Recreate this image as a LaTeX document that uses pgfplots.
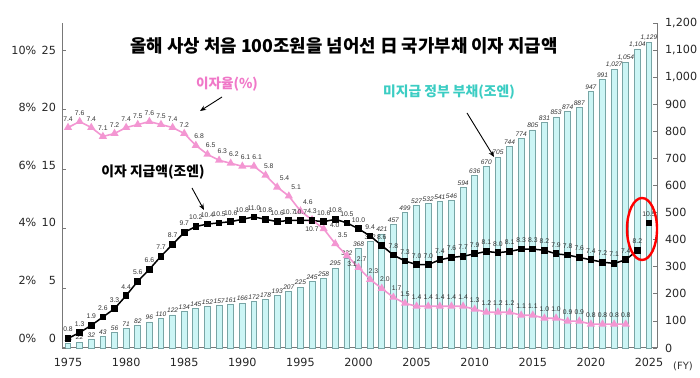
\documentclass[border=0pt]{standalone}
\usepackage{pgfplots}
\pgfplotsset{compat=1.18}
\usepackage{pgfplotstable}
\usepackage{fontspec}
\setmainfont{DejaVu Sans}
\newfontfamily\kr{Noto Sans CJK KR}
\newfontfamily\lab{Liberation Sans}
\usetikzlibrary{arrows.meta}
\pgfplotsset{/pgf/number format/assume math mode=true}

\definecolor{barfill}{RGB}{204,245,245}
\definecolor{baredge}{RGB}{120,165,165}
\definecolor{pinkc}{RGB}{243,150,210}
\definecolor{pinktxt}{RGB}{240,120,200}
\definecolor{tealtxt}{RGB}{60,205,195}
\definecolor{axgray}{RGB}{120,120,120}
\definecolor{lbl}{RGB}{50,50,50}

\pgfplotstableread{
x d
1975 15
1976 22
1977 32
1978 43
1979 56
1980 71
1981 82
1982 96
1983 110
1984 122
1985 134
1986 145
1987 152
1988 157
1989 161
1990 166
1991 172
1992 178
1993 193
1994 207
1995 225
1996 245
1997 258
1998 295
1999 332
2000 368
2001 392
2002 421
2003 457
2004 499
2005 527
2006 532
2007 541
2008 546
2009 594
2010 636
2011 670
2012 705
2013 744
2014 774
2015 805
2016 831
2017 853
2018 874
2019 887
2020 947
2021 991
2022 1027
2023 1054
2024 1104
2025 1129
}\debt

\pgfplotstableread{
x v
1975 7.4
1976 7.6
1977 7.4
1978 7.1
1979 7.2
1980 7.4
1981 7.5
1982 7.6
1983 7.5
1984 7.4
1985 7.2
1986 6.8
1987 6.5
1988 6.3
1989 6.2
1990 6.1
1991 6.1
1992 5.8
1993 5.4
1994 5.1
1995 4.6
1996 4.3
1997 4.0
1998 3.5
1999 3.1
2000 2.7
2001 2.3
2002 2.0
2003 1.7
2004 1.5
2005 1.4
2006 1.4
2007 1.4
2008 1.4
2009 1.4
2010 1.3
2011 1.2
2012 1.2
2013 1.2
2014 1.1
2015 1.1
2016 1.0
2017 1.0
2018 0.9
2019 0.9
2020 0.8
2021 0.8
2022 0.8
2023 0.8
}\rate

\pgfplotstableread{
x v
1975 0.8
1976 1.3
1977 1.9
1978 2.6
1979 3.3
1980 4.4
1981 5.6
1982 6.6
1983 7.7
1984 8.7
1985 9.7
1986 10.2
1987 10.4
1988 10.5
1989 10.6
1990 10.8
1991 11.0
1992 10.8
1993 10.6
1994 10.7
1995 10.7
1996 10.7
1997 10.6
1998 10.8
1999 10.5
2000 10.0
2001 9.4
2002 8.6
2003 7.8
2004 7.3
2005 7.0
2006 7.0
2007 7.4
2008 7.6
2009 7.7
2010 7.9
2011 8.1
2012 8.0
2013 8.1
2014 8.3
2015 8.3
2016 8.2
2017 7.9
2018 7.8
2019 7.6
2020 7.4
2021 7.2
2022 7.1
2023 7.4
2024 8.2
}\intr

\pgfplotstableread{
x v
2025 10.5
}\intrlast

\pgfplotsset{
  common/.style={
    at={(31pt,15pt)}, anchor=south west, scale only axis,
    width=297.5pt, height=162.5pt,
    xmin=1974.48, xmax=2025.69, clip=false,
    axis line style={draw=axgray, line width=0.5pt},
    tick style={draw=axgray, line width=0.4pt},
    major tick length=2.2pt,
    ticklabel style={font=\fontsize{5.6}{6}\selectfont, text=black!85},
  },
  lblnodes/.style={
    draw=none, mark=none, forget plot,
    nodes near coords={\pgfmathprintnumber[fixed,fixed zerofill,precision=1]{\pgfplotspointmeta}},
    point meta=explicit,
    every node near coord/.append style={font=\lab\fontsize{3.4}{3.8}\selectfont, text=lbl, inner sep=0.6pt, outer sep=2.6pt, anchor=#1},
  },
}

\begin{document}
\begin{tikzpicture}
\useasboundingbox (0,0) rectangle (350pt,189pt);

% bars on right axis
\begin{axis}[common,
  ymin=0, ymax=1200,
  axis x line*=bottom, axis y line*=right,
  xtick={1975,1980,...,2025},
  x tick label style={/pgf/number format/set thousands separator={}, yshift=-1.5pt},
  ytick={0,100,...,1200},
  y tick label style={/pgf/number format/1000 sep={,}, anchor=west, xshift=0.5pt},
  minor x tick num=4, minor tick length=1.2pt,
]
\addplot[ybar, bar width=0.5, fill=barfill, draw=baredge, line width=0.45pt,
  nodes near coords,
  every node near coord/.append style={font=\lab\itshape\fontsize{3.3}{3.6}\selectfont, text=lbl, inner sep=0.8pt,
    /pgf/number format/1000 sep={,}}]
  table[x=x, y=d]{\debt};
\end{axis}

% lines on left axis
\begin{axis}[common,
  ymin=0, ymax=27.2727,
  axis x line=none, axis y line*=left,
  ytick={0,5,10,15,20,25},
  yticklabels={
    {\raisebox{10pt}{\makebox[2.1em][r]{0\%}\makebox[1.75em][r]{0}}},
    {\raisebox{8pt}{\makebox[2.1em][r]{2\%}\makebox[1.75em][r]{5}}},
    {\raisebox{6pt}{\makebox[2.1em][r]{4\%}\makebox[1.75em][r]{10}}},
    {\raisebox{4pt}{\makebox[2.1em][r]{6\%}\makebox[1.75em][r]{15}}},
    {\raisebox{2pt}{\makebox[2.1em][r]{8\%}\makebox[1.75em][r]{20}}},
    {\makebox[2.1em][r]{10\%}\makebox[1.75em][r]{25}}},
  y tick label style={xshift=0.5pt},
]
\addplot[pinkc, line width=0.8pt, mark=triangle*, mark size=1.6pt,
  mark options={fill=pinkc, draw=pinkc}]
  table[x=x, y expr=\thisrow{v}*2.5]{\rate};
\addplot[black, line width=0.75pt, mark=square*, mark size=1.3pt]
  table[x=x, y=v]{\intr};
\addplot[only marks, black, mark=square*, mark size=1.3pt]
  table[x=x, y=v]{\intrlast};

% value labels, pink
\addplot[lblnodes=270, restrict x to domain=1975:1985] table[x=x, y expr=\thisrow{v}*2.5, meta=v]{\rate};
\addplot[lblnodes=250, restrict x to domain=1986:1992] table[x=x, y expr=\thisrow{v}*2.5, meta=v]{\rate};
\addplot[lblnodes=230, restrict x to domain=1993:1995] table[x=x, y expr=\thisrow{v}*2.5, meta=v]{\rate};
\addplot[lblnodes=270, restrict x to domain=1996:1996] table[x=x, y expr=\thisrow{v}*2.5, meta=v]{\rate};
\addplot[lblnodes=200, restrict x to domain=1997:1997] table[x=x, y expr=\thisrow{v}*2.5, meta=v]{\rate};
\addplot[lblnodes=230, restrict x to domain=1998:1998] table[x=x, y expr=\thisrow{v}*2.5, meta=v]{\rate};
\addplot[lblnodes=120, restrict x to domain=1999:1999] table[x=x, y expr=\thisrow{v}*2.5, meta=v]{\rate};
\addplot[lblnodes=250, restrict x to domain=2000:2003] table[x=x, y expr=\thisrow{v}*2.5, meta=v]{\rate};
\addplot[lblnodes=270, restrict x to domain=2004:2023] table[x=x, y expr=\thisrow{v}*2.5, meta=v]{\rate};
% value labels, black
\addplot[lblnodes=270, restrict x to domain=1975:1995] table[x=x, y=v, meta=v]{\intr};
\addplot[lblnodes=90, restrict x to domain=1996:1996] table[x=x, y=v, meta=v]{\intr};
\addplot[lblnodes=270, restrict x to domain=1997:2024] table[x=x, y=v, meta=v]{\intr};
\addplot[lblnodes=270] table[x=x, y=v, meta=v]{\intrlast};
\end{axis}

% annotations
\node[font=\kr\bfseries\fontsize{8.9}{9.5}\selectfont] at (172pt,166pt) {올해 사상 처음 100조원을 넘어선 日 국가부채 이자 지급액};
\node[font=\kr\bfseries\fontsize{6.8}{7}\selectfont, text=pinktxt] at (113.5pt,147pt) {이자율(\%)};
\node[font=\kr\bfseries\fontsize{6.9}{7}\selectfont, text=tealtxt] at (224.5pt,143pt) {미지급 정부 부채(조엔)};
\node[font=\kr\bfseries\fontsize{6.9}{7}\selectfont] at (76.5pt,103pt) {이자 지급액(조엔)};
\draw[-{Stealth[length=3pt,width=2.4pt]}, line width=0.45pt] (111pt,140.5pt) -- (100pt,133.5pt);
\draw[-{Stealth[length=3pt,width=2.4pt]}, line width=0.45pt] (96pt,95pt) -- (102pt,84pt);
\draw[-{Stealth[length=3pt,width=2.4pt]}, line width=0.45pt] (233.5pt,132.5pt) -- (247pt,110.5pt);
\draw[red, line width=1.2pt] (321pt,74.5pt) ellipse [x radius=7.5pt, y radius=15.5pt];
\node[font=\fontsize{5}{6}\selectfont, text=black!80] at (341.5pt,6pt) {(FY)};
\end{tikzpicture}
\end{document}
